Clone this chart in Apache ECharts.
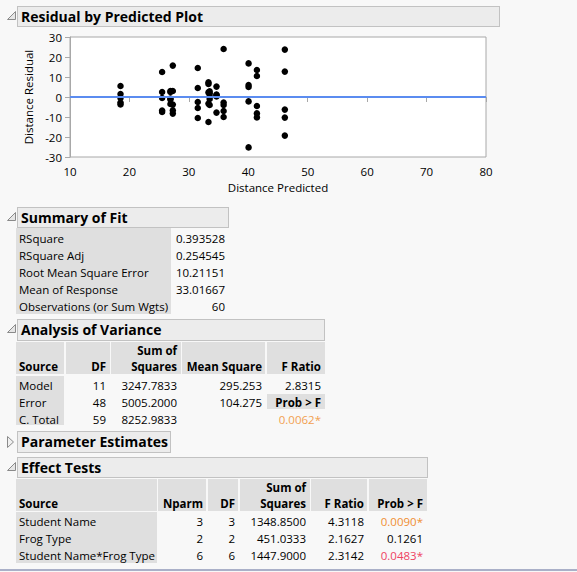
<!DOCTYPE html>
<html><head><meta charset="utf-8">
<script src="https://cdn.jsdelivr.net/npm/echarts@6/dist/echarts.min.js"></script>
<style>
html,body{margin:0;padding:0;background:#f8f8f8;width:577px;height:572px;overflow:hidden;}
body{font-family:"Open Sans",sans-serif;font-size:11.5px;color:#000;position:relative;}
.abs{position:absolute;white-space:nowrap;}
.hdr{position:absolute;background:#ececec;border:1px solid #c2c2c2;box-sizing:border-box;font-weight:bold;font-size:14px;line-height:19px;padding-left:3px;}
.g{position:absolute;background:#dfdfdf;}
.t{position:absolute;white-space:nowrap;line-height:17px;height:17px;}
.b{font-weight:bold;}
</style></head>
<body>
<div id="plot" class="abs" style="left:0;top:0;width:577px;height:200px;"></div>
<div id="rep"></div>
<script>
// ---- plot data ----
const predicted = [18.5, 25.5, 26.9, 27.3, 31.5, 33.3, 33.5, 34.65, 35.85, 40.05, 41.45, 46.15];
const residuals = [
  [5.5, 1.5, -0.5, -2.8, -3.7],
  [12.5, 2.5, -0.5, -6.8, -7.5],
  [3.0, 2.5, -0.8, -1.2, -3.5],
  [15.7, 3.0, -3.8, -6.7, -8.3],
  [14.5, 4.5, -2.5, -5.5, -10.5],
  [7.3, 6.5, 2.3, -3.3, -12.5],
  [2.9, 1.8, 0.3, -1.0, -4.0],
  [5.2, 1.2, 1.0, 0.3, -7.8],
  [24.0, -2.8, -4.0, -7.0, -10.0],
  [16.8, 6.0, 5.0, -2.2, -25.2],
  [13.5, 10.5, -4.5, -8.2, -10.2],
  [23.7, 12.7, -6.3, -10.3, -19.3]
];
const xTicks = {min: 10, max: 80, interval: 10};
const yTicks = {min: -30, max: 30, interval: 10};

// ---- report tables ----
const summaryLabels = ["RSquare", "RSquare Adj", "Root Mean Square Error", "Mean of Response", "Observations (or Sum Wgts)"];
const summaryValues = ["0.393528", "0.254545", "10.21151", "33.01667", "60"];

const anovaSource = ["Model", "Error", "C. Total"];
const anovaDF = ["11", "48", "59"];
const anovaSS = ["3247.7833", "5005.2000", "8252.9833"];
const anovaMS = ["295.253", "104.275", ""];
const anovaF = "2.8315";
const anovaProb = "0.0062*";

const effSource = ["Student Name", "Frog Type", "Student Name*Frog Type"];
const effNparm = ["3", "2", "6"];
const effDF = ["3", "2", "6"];
const effSS = ["1348.8500", "451.0333", "1447.9000"];
const effF = ["4.3118", "2.1627", "2.3142"];
const effProb = ["0.0090*", "0.1261", "0.0483*"];
const effProbColor = ["#f08e33", "#000000", "#ee4262"];

// ---- chart ----
const pts = [];
predicted.forEach((p, i) => residuals[i].forEach(r => pts.push([p, r])));
const chart = echarts.init(document.getElementById('plot'), null, {renderer: 'svg'});
const axFont = {color: '#000', fontSize: 11.5, fontFamily: 'Open Sans'};
chart.setOption({
  animation: false,
  grid: {left: 70, top: 37, width: 416, height: 120, show: true, backgroundColor: '#ffffff', borderColor: '#a8a8a8', borderWidth: 1},
  xAxis: {type: 'value', min: xTicks.min, max: xTicks.max, interval: xTicks.interval,
    name: 'Distance Predicted', nameLocation: 'middle', nameGap: 24, nameTextStyle: axFont,
    axisLine: {show: true, lineStyle: {color: '#a8a8a8'}},
    axisTick: {show: true, length: 5, lineStyle: {color: '#a8a8a8'}},
    axisLabel: Object.assign({margin: 8}, axFont), splitLine: {show: false}},
  yAxis: {type: 'value', min: yTicks.min, max: yTicks.max, interval: yTicks.interval,
    name: 'Distance Residual', nameLocation: 'middle', nameGap: 33, nameTextStyle: axFont,
    axisLine: {show: true, lineStyle: {color: '#a8a8a8'}},
    axisTick: {show: true, length: 5, lineStyle: {color: '#a8a8a8'}},
    axisLabel: Object.assign({margin: 8}, axFont), splitLine: {show: false}},
  series: [
    {type: 'line', data: [], z: 1, markLine: {silent: true, symbol: 'none', label: {show: false},
      lineStyle: {color: '#5b8cf0', width: 2, type: 'solid'}, data: [{yAxis: 0}]}},
    {type: 'scatter', data: pts, symbolSize: 6.5, z: 3, itemStyle: {color: '#000', opacity: 1}}
  ]
});

// ---- report html ----
const rep = document.getElementById('rep');
function add(html){ rep.insertAdjacentHTML('beforeend', html); }
function hdr(x, y, w, h, text){ add(`<div class="hdr" style="left:${x}px;top:${y}px;width:${w}px;height:${h}px;line-height:${h-2}px">${text}</div>`); }
function gbox(x, y, w, h){ add(`<div class="g" style="left:${x}px;top:${y}px;width:${w}px;height:${h}px"></div>`); }
function txtL(x, y, s, cls, color){ add(`<div class="t ${cls||''}" style="left:${x}px;top:${y}px;${color?'color:'+color:''}">${s}</div>`); }
function txtR(r, y, s, cls, color){ add(`<div class="t ${cls||''}" style="right:${577-r}px;top:${y}px;text-align:right;${color?'color:'+color:''}">${s}</div>`); }
function triOpen(x, y){ add(`<svg class="abs" style="left:${x}px;top:${y}px" width="11" height="10"><polygon points="9.5,0.5 9.5,8.5 1.5,8.5" fill="#e6e6e6" stroke="#8a8a8a" stroke-width="1"/></svg>`); }
function triClosed(x, y){ add(`<svg class="abs" style="left:${x}px;top:${y}px" width="9" height="13"><polygon points="0.5,0.5 0.5,11.5 6.5,6" fill="#f0f0f0" stroke="#8a8a8a" stroke-width="1"/></svg>`); }

// Plot header
triOpen(6, 11); hdr(17, 6, 483, 21, 'Residual by Predicted Plot');

// Summary of Fit
triOpen(6, 212); hdr(17, 207, 212, 21, 'Summary of Fit');
gbox(16, 228, 155, 86);
summaryLabels.forEach((l, i) => { txtL(19, 229.5 + 17*i, l); txtR(225, 229.5 + 17*i, summaryValues[i]); });

// Analysis of Variance
triOpen(6, 324); hdr(17, 319, 308, 22, 'Analysis of Variance');
const aCols = [[16,48],[66,44],[111,70],[182,83],[267,58]];
aCols.forEach(c => gbox(c[0], 342, c[1], 32));
txtL(19, 358, 'Source', 'b');
txtR(106, 358, 'DF', 'b');
txtR(177, 342, 'Sum of', 'b'); txtR(177, 358, 'Squares', 'b');
txtR(262, 358, 'Mean Square', 'b');
txtR(321, 358, 'F Ratio', 'b');
gbox(16, 376, 48, 49);
gbox(267, 394, 58, 15);
anovaSource.forEach((s, i) => {
  const y = 376.5 + 17*i;
  txtL(19, y, s); txtR(106, y, anovaDF[i]); txtR(177, y, anovaSS[i]); txtR(262, y, anovaMS[i]);
});
txtR(321, 376.5, anovaF);
txtR(321, 393.5, 'Prob &gt; F', 'b');
txtR(321, 410.5, anovaProb, '', '#f2a050');

// Parameter Estimates
triClosed(7, 436); hdr(17, 431, 154, 22, 'Parameter Estimates');

// Effect Tests
triOpen(6, 462); hdr(17, 457, 411, 21, 'Effect Tests');
const eCols = [[16,141],[158,48],[208,30],[240,70],[311,56],[369,58]];
eCols.forEach(c => gbox(c[0], 479, c[1], 32));
txtL(19, 495, 'Source', 'b');
txtR(203, 495, 'Nparm', 'b');
txtR(235, 495, 'DF', 'b');
txtR(306, 479, 'Sum of', 'b'); txtR(306, 495, 'Squares', 'b');
txtR(364, 495, 'F Ratio', 'b');
txtR(423, 495, 'Prob &gt; F', 'b');
gbox(16, 512, 141, 51);
effSource.forEach((s, i) => {
  const y = 513 + 17*i;
  txtL(19, y, s); txtR(203, y, effNparm[i]); txtR(235, y, effDF[i]); txtR(306, y, effSS[i]);
  txtR(364, y, effF[i]); txtR(423, y, effProb[i], '', effProbColor[i]);
});
add('<div class="abs" style="left:0;top:569px;width:577px;height:2px;background:#aab0c8"></div>');
</script>
</body></html>
